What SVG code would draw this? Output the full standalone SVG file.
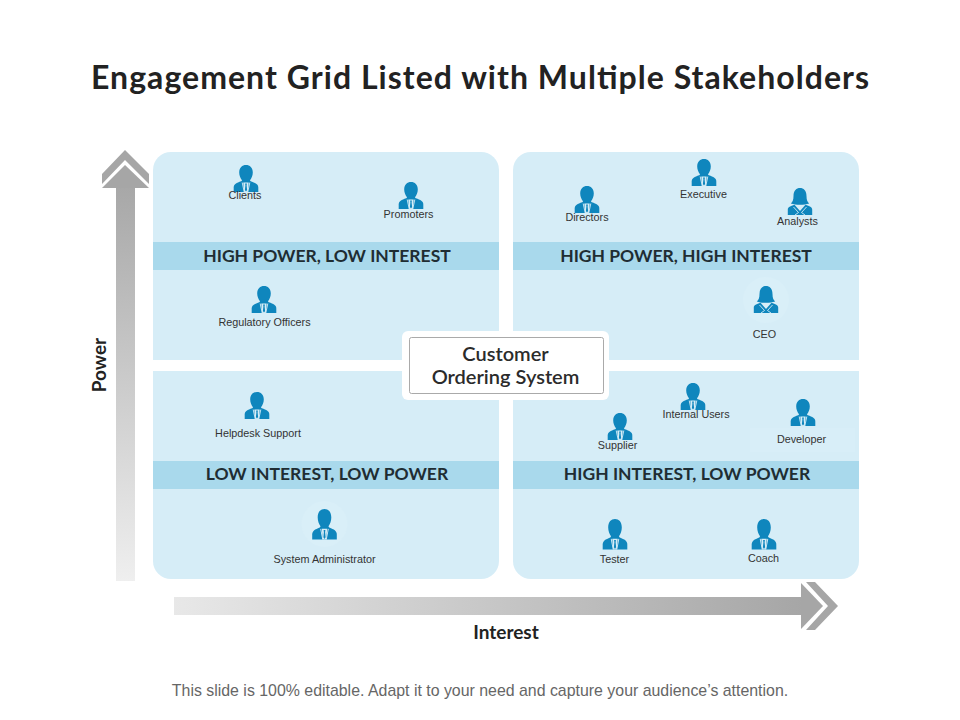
<svg xmlns="http://www.w3.org/2000/svg" width="960" height="720" viewBox="0 0 960 720">
<style>
text{font-family:"Liberation Sans",Arial,sans-serif;text-anchor:middle}
.panel{fill:#d6edf7}
.band{fill:#a9d9ec}
.hd{font-family:Lato,"Open Sans",sans-serif;font-weight:700;font-size:17.500px;fill:#1f2d33}
.lb{font-size:10.800px;fill:#333}
.icon{fill:#0f86bd}
.cut{fill:none;stroke:#d6edf7;stroke-width:0.900}
.big{font-family:Lato,sans-serif;font-weight:700;fill:#222}
</style>
<defs>
<linearGradient id="gv" x1="0" y1="0" x2="0" y2="1"><stop offset="0" stop-color="#a6a6a6"/><stop offset="1" stop-color="#efefef"/></linearGradient>
<linearGradient id="gh" x1="0" y1="0" x2="1" y2="0"><stop offset="0" stop-color="#e8e8e8"/><stop offset="1" stop-color="#a6a6a6"/></linearGradient>
<g id="man">
<path class="icon" d="M-6.800 7.500C-6.800 2.500-3.800 0 0 0S6.800 2.500 6.800 7.500C6.800 10.500 5.500 13.500 4 15.200L4.800 17H-4.800L-4 15.200C-5.500 13.500-6.800 10.500-6.800 7.500Z"/>
<path class="icon" d="M-12.300 27V22.500C-12.300 19.300-9.500 18-4.800 16.300H4.800C9.500 18 12.300 19.300 12.300 22.500V27Z"/>
<path class="cut" d="M-3.800 17.500-1.800 27M3.800 17.500 1.800 27"/>
<path fill="#d6edf7" d="M-2.700 17.500H2.700L1.800 27H-1.800Z"/>
<path class="icon" d="M-0.900 18.500H0.900L0.600 20.500 1.100 25 0 26.500-1.100 25-0.600 20.500Z"/>
</g>
<g id="woman">
<path class="icon" d="M-6.500 8C-6.500 2.500-3.500 0 0 0S6.500 2.500 6.500 8C6.500 12 7.500 14 9.200 15.500 6.500 16.500 3.500 16.800 0 16.800S-6.500 16.500-9.200 15.500C-7.500 14-6.500 12-6.500 8Z"/>
<path class="icon" d="M-12.200 27V21.500C-12.200 19-9.500 18-5.500 16.700L0 23 5.500 16.700C9.500 18 12.200 19 12.200 21.500V27Z"/>
<path class="cut" d="M-6.500 19-1.500 24.500-5 27M6.500 19 1.500 24.500 5 27" stroke-width="1.200"/>
</g>
</defs>
<text id="title" x="480" y="89" font-size="32" font-weight="700" fill="#222" textLength="778" lengthAdjust="spacing" style="font-family:Lato,'Open Sans',sans-serif">Engagement Grid Listed with Multiple Stakeholders</text>
<g id="panels">
<path class="panel" d="M153 360V170a18 18 0 0 1 18-18H481a18 18 0 0 1 18 18V360Z"/>
<path class="panel" d="M513 360V170a18 18 0 0 1 18-18H841a18 18 0 0 1 18 18V360Z"/>
<path class="panel" d="M153 371V561a18 18 0 0 0 18 18H481a18 18 0 0 0 18-18V371Z"/>
<path class="panel" d="M513 371V561a18 18 0 0 0 18 18H841a18 18 0 0 0 18-18V371Z"/>
<rect x="750" y="428" width="105" height="24" fill="#d8eef8"/>
<circle cx="766" cy="300" r="23" fill="#d9eff8"/>
<circle cx="324.500" cy="524" r="23" fill="#d9eff8"/>
</g>
<g id="connectors">
<rect x="116" y="178" width="19" height="403" fill="url(#gv)"/>
<path d="M125 165 149 188H102Z" fill="#a6a6a6"/>
<path d="M125 150 149 174V184L125 160 102 184V174Z" fill="#a6a6a6"/>
<rect x="174" y="597" width="630" height="18" fill="url(#gh)"/>
<path d="M801 583 823 606 801 629Z" fill="#a6a6a6"/>
<path d="M806 582H815L838 606 815 630H806L828 606Z" fill="#a6a6a6"/>
</g>
<g id="band-tl"><rect class="band" x="153" y="242" width="346" height="28"/><text class="hd" x="327" y="262">HIGH POWER, LOW INTEREST</text></g>
<g id="band-tr"><rect class="band" x="513" y="242" width="346" height="28"/><text class="hd" x="686" y="262">HIGH POWER, HIGH INTEREST</text></g>
<g id="band-bl"><rect class="band" x="153" y="461" width="346" height="28"/><text class="hd" x="327" y="480">LOW INTEREST, LOW POWER</text></g>
<g id="band-br"><rect class="band" x="513" y="461" width="346" height="28"/><text class="hd" x="687" y="480">HIGH INTEREST, LOW POWER</text></g>
<g id="center">
<rect x="402" y="331" width="207" height="69" rx="6" fill="#fff"/>
<rect x="409.500" y="337.500" width="194" height="56" rx="2" fill="#fff" stroke="#aaa"/>
<text x="505.500" y="361" font-size="20" font-weight="600" fill="#2b2b2b" style="font-family:Lato,sans-serif">Customer</text>
<text x="505.500" y="384" font-size="20" font-weight="600" fill="#2b2b2b" style="font-family:Lato,sans-serif">Ordering System</text>
</g>
<g id="clients"><use href="#man" x="246" y="165"/><text class="lb" x="245" y="199">Clients</text></g>
<g id="promoters"><use href="#man" x="411" y="182"/><text class="lb" x="408.500" y="218">Promoters</text></g>
<g id="regulatory"><use href="#man" x="264" y="286"/><text class="lb" x="264.500" y="326">Regulatory Officers</text></g>
<g id="directors"><use href="#man" x="587" y="186"/><text class="lb" x="587" y="221">Directors</text></g>
<g id="executive"><use href="#man" x="704" y="159"/><text class="lb" x="703.500" y="198">Executive</text></g>
<g id="analysts"><use href="#woman" x="800" y="188"/><text class="lb" x="797.500" y="225">Analysts</text></g>
<g id="ceo"><use href="#woman" x="766" y="286"/><text class="lb" x="764.500" y="338">CEO</text></g>
<g id="internal"><use href="#man" x="693" y="383"/><text class="lb" x="696" y="418">Internal Users</text></g>
<g id="supplier"><use href="#man" x="620" y="413"/><text class="lb" x="617.500" y="449">Supplier</text></g>
<g id="developer"><use href="#man" x="803" y="399"/><text class="lb" x="801.500" y="443">Developer</text></g>
<g id="helpdesk"><use href="#man" x="257" y="392"/><text class="lb" x="258" y="437">Helpdesk Support</text></g>
<g id="sysadmin"><use href="#man" transform="translate(324.500 509) scale(1 1.130)"/><text class="lb" x="324.500" y="563">System Administrator</text></g>
<g id="tester"><use href="#man" transform="translate(615 519) scale(1 1.130)"/><text class="lb" x="614.500" y="563">Tester</text></g>
<g id="coach"><use href="#man" transform="translate(764 519) scale(1 1.130)"/><text class="lb" x="763.500" y="562">Coach</text></g>
<text class="big" x="106" y="365" font-size="19" transform="rotate(-90 106 365)">Power</text>
<text class="big" x="506" y="639" font-size="19">Interest</text>
<text x="480" y="696" font-size="15.900" fill="#666">This slide is 100% editable. Adapt it to your need and capture your audience’s attention.</text>
</svg>
